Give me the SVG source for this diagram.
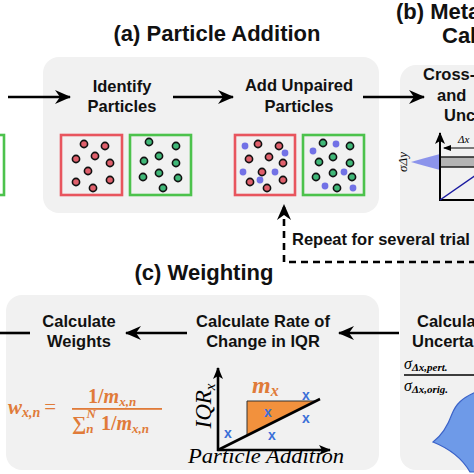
<svg xmlns="http://www.w3.org/2000/svg" width="474" height="474" viewBox="0 0 474 474">
<style>
.panel{fill:#f1f1f1}
.t{font-family:"Liberation Sans",Arial,sans-serif;font-weight:bold;font-size:16.5px;fill:#111;text-anchor:middle}
.ts{font-family:"Liberation Sans",Arial,sans-serif;font-weight:bold;font-size:16.5px;fill:#111;text-anchor:start}
.title{font-family:"Liberation Sans",Arial,sans-serif;font-weight:bold;font-size:22px;fill:#111}
.ln{stroke:#000;stroke-width:2.6;fill:none}
.rb{fill:none;stroke:#e8555e;stroke-width:2.6}
.gb{fill:none;stroke:#4cc24c;stroke-width:2.6}
.rd{fill:#e0606c;stroke:#111;stroke-width:1.6}
.gd{fill:#40b878;stroke:#111;stroke-width:1.6}
.bd{fill:#7272e6}
.m{font-family:"Liberation Serif","Times New Roman",serif;font-style:italic}
.or{fill:#e07b39}
.bx{font-family:"Liberation Sans",Arial,sans-serif;font-weight:bold;font-size:14px;fill:#3a6fd8;text-anchor:middle}
</style>
<defs>
<marker id="ah" markerUnits="userSpaceOnUse" markerWidth="16" markerHeight="14" refX="15" refY="7" orient="auto">
<path d="M0,0 L16,7 L0,14 L5,7 Z" fill="#000"/>
</marker>
<marker id="ahs" markerUnits="userSpaceOnUse" markerWidth="12" markerHeight="10" refX="11" refY="5" orient="auto">
<path d="M0,0 L12,5 L0,10 L3,5 Z" fill="#000"/>
</marker>
<marker id="aht" markerUnits="userSpaceOnUse" markerWidth="8" markerHeight="6" refX="7" refY="3" orient="auto">
<path d="M0,0 L8,3 L0,6 Z" fill="#000"/>
</marker>
</defs>
<rect width="474" height="474" fill="#fff"/>

<!-- panels -->
<rect class="panel" x="43" y="57" width="336" height="156" rx="16"/>
<rect class="panel" x="400" y="65" width="110" height="405" rx="16"/>
<rect class="panel" x="6" y="295" width="373" height="175" rx="16"/>

<text class="title" x="217" y="41" text-anchor="middle">(a) Particle Addition</text>
<text class="title" x="396" y="19">(b) Meta</text>
<text class="title" x="442" y="43">Cal</text>
<text class="title" x="204" y="280" text-anchor="middle">(c) Weighting</text>

<!-- left partial box -->
<g id="left-partial">
<rect class="gb" x="-20" y="135" width="24" height="60"/>
</g>

<g id="identify">
<text class="t" x="122" y="92">Identify</text>
<text class="t" x="122" y="112">Particles</text>
<rect class="rb" x="61" y="135" width="61" height="60"/>
<circle class="rd" cx="84" cy="144" r="3.6"/><circle class="rd" cx="105" cy="146" r="3.6"/>
<circle class="rd" cx="76" cy="159" r="3.6"/><circle class="rd" cx="95" cy="156" r="3.6"/>
<circle class="rd" cx="110" cy="163" r="3.6"/><circle class="rd" cx="88" cy="171" r="3.6"/>
<circle class="rd" cx="76" cy="182" r="3.6"/><circle class="rd" cx="93" cy="188" r="3.6"/>
<circle class="rd" cx="110" cy="180" r="3.6"/>
<rect class="gb" x="130" y="135" width="61" height="60"/>
<circle class="gd" cx="149" cy="142" r="3.6"/><circle class="gd" cx="176" cy="146" r="3.6"/>
<circle class="gd" cx="159" cy="156" r="3.6"/><circle class="gd" cx="144" cy="161" r="3.6"/>
<circle class="gd" cx="176" cy="163" r="3.6"/><circle class="gd" cx="159" cy="173" r="3.6"/>
<circle class="gd" cx="143" cy="177" r="3.6"/><circle class="gd" cx="178" cy="178" r="3.6"/>
<circle class="gd" cx="163" cy="188" r="3.6"/>
</g>

<g id="add-unpaired">
<text class="t" x="299" y="91">Add Unpaired</text>
<text class="t" x="299" y="112">Particles</text>
<rect class="rb" x="235" y="135" width="60" height="60"/>
<circle class="bd" cx="245" cy="146" r="3.4"/><circle class="bd" cx="285" cy="153" r="3.4"/>
<circle class="bd" cx="243" cy="172" r="3.4"/><circle class="bd" cx="275" cy="172" r="3.4"/>
<circle class="bd" cx="260" cy="180" r="3.4"/>
<circle class="rd" cx="258" cy="144" r="3.6"/><circle class="rd" cx="279" cy="146" r="3.6"/>
<circle class="rd" cx="249" cy="159" r="3.6"/><circle class="rd" cx="269" cy="157" r="3.6"/>
<circle class="rd" cx="283" cy="163" r="3.6"/><circle class="rd" cx="262" cy="172" r="3.6"/>
<circle class="rd" cx="250" cy="182" r="3.6"/><circle class="rd" cx="267" cy="188" r="3.6"/>
<circle class="rd" cx="283" cy="180" r="3.6"/>
<rect class="gb" x="303" y="135" width="61" height="60"/>
<circle class="bd" cx="336" cy="144" r="3.4"/><circle class="bd" cx="313" cy="151" r="3.4"/>
<circle class="bd" cx="344" cy="172" r="3.4"/><circle class="bd" cx="325" cy="186" r="3.4"/>
<circle class="bd" cx="353" cy="188" r="3.4"/>
<circle class="gd" cx="323" cy="143" r="3.6"/><circle class="gd" cx="350" cy="146" r="3.6"/>
<circle class="gd" cx="333" cy="157" r="3.6"/><circle class="gd" cx="319" cy="162" r="3.6"/>
<circle class="gd" cx="350" cy="163" r="3.6"/><circle class="gd" cx="333" cy="173" r="3.6"/>
<circle class="gd" cx="316" cy="177" r="3.6"/><circle class="gd" cx="352" cy="177" r="3.6"/>
<circle class="gd" cx="337" cy="188" r="3.6"/>
</g>

<g id="cross-val">
<text class="ts" x="423" y="80">Cross-</text>
<text class="ts" x="437" y="101">and</text>
<text class="ts" x="444" y="121">Unc</text>
<rect x="440" y="157" width="40" height="10" fill="#b4b4b4" stroke="#222" stroke-width="1.5"/>
<path d="M440,154 C430,157 420,159 411,162 C420,165 430,167 440,170 Z" fill="#7a84ea" opacity="0.85"/>
<line x1="440" y1="200" x2="440" y2="133" stroke="#000" stroke-width="2" marker-end="url(#ahs)"/>
<line x1="439" y1="200" x2="480" y2="200" stroke="#000" stroke-width="2"/>
<line x1="440" y1="200" x2="476" y2="175" stroke="#1a1aa0" stroke-width="1.5"/>
<line x1="476" y1="148" x2="444" y2="148" stroke="#000" stroke-width="1" marker-end="url(#aht)"/>
<text class="m" x="458" y="143" font-size="11" font-style="normal">Δx</text>
<text class="m" font-size="13" font-style="normal" transform="translate(407,162) rotate(-90)" text-anchor="middle">σΔy</text>
</g>

<g id="calc-unc">
<text class="ts" x="417" y="327">Calcula</text>
<text class="ts" x="412" y="347">Uncerta</text>
<text class="m" x="404" y="369" font-size="16" font-style="italic">σ<tspan font-size="11" font-weight="bold" dy="2">Δx,pert.</tspan></text>
<line x1="404" y1="375" x2="480" y2="375" stroke="#000" stroke-width="1.4"/>
<text class="m" x="404" y="391" font-size="16" font-style="italic">σ<tspan font-size="11" font-weight="bold" dy="2">Δx,orig.</tspan></text>
<path d="M476,392 C462,398 456,404 452,414 C447,428 441,436 433,442 C448,448 462,458 470,472 L476,472 Z" fill="#6e9ae8" stroke="#3a62c8" stroke-width="1.2"/>
</g>

<g id="rate-iqr">
<text class="t" x="263" y="327">Calculate Rate of</text>
<text class="t" x="263" y="347">Change in IQR</text>
<path d="M247,401 L316,401 L247,435.5 Z" fill="#f2913d" stroke="#333" stroke-width="1"/>
<line x1="218" y1="450" x2="320" y2="399" stroke="#000" stroke-width="2.6"/>
<line x1="218" y1="451" x2="218" y2="368" stroke="#000" stroke-width="2.6" marker-end="url(#ahs)"/>
<line x1="217" y1="450" x2="330" y2="450" stroke="#000" stroke-width="2.6" marker-end="url(#ahs)"/>
<text class="m or" x="252" y="393" font-size="24" font-weight="bold">m<tspan font-size="16" dy="3">x</tspan></text>
<text class="bx" x="228" y="438">x</text>
<text class="bx" x="268" y="417">x</text>
<text class="bx" x="272" y="440">x</text>
<text class="bx" x="306" y="400">x</text>
<text class="bx" x="306" y="423">x</text>
<text class="m" transform="translate(211,406) rotate(-90)" font-size="23" text-anchor="middle">IQR<tspan font-size="15" dy="4">x</tspan></text>
<text class="m" x="188" y="463" font-size="20" textLength="156" lengthAdjust="spacingAndGlyphs">Particle Addition</text>
</g>

<g id="weights">
<text class="t" x="79" y="327">Calculate</text>
<text class="t" x="79" y="347">Weights</text>
<g class="or" font-family="'Liberation Serif','Times New Roman',serif" font-weight="bold">
<text x="8" y="414" font-size="21" font-style="italic">w<tspan font-size="14" dy="3">x,n</tspan><tspan dy="-3" font-size="21" font-style="normal" font-weight="normal" dx="4">=</tspan></text>
<text x="88" y="403" font-size="20">1/<tspan font-style="italic">m</tspan><tspan font-size="13" font-style="italic" dy="3">x,n</tspan></text>
<rect x="72" y="408" width="90" height="1.8"/>
<text x="72" y="430" font-size="20">∑<tspan font-size="13" font-style="italic" dy="3">n</tspan><tspan font-size="13" font-style="italic" dx="-7" dy="-15">N</tspan><tspan dy="12"> 1/</tspan><tspan font-style="italic">m</tspan><tspan font-size="13" font-style="italic" dy="3">x,n</tspan></text>
</g>
</g>

<g id="connectors">
<line class="ln" x1="8" y1="97" x2="70" y2="97" marker-end="url(#ah)"/>
<line class="ln" x1="173" y1="97" x2="233" y2="97" marker-end="url(#ah)"/>
<line class="ln" x1="363" y1="97" x2="424" y2="97" marker-end="url(#ah)"/>
<path class="ln" d="M476,262 L284,262 L284,205" stroke-dasharray="7,5" marker-end="url(#ah)"/>
<line class="ln" x1="399" y1="333" x2="339" y2="333" marker-end="url(#ah)"/>
<line class="ln" x1="187" y1="333" x2="126" y2="333" marker-end="url(#ah)"/>
<line class="ln" x1="30" y1="333" x2="-2" y2="333"/>
</g>
<text class="ts" x="292" y="245">Repeat for several trial</text>
</svg>
